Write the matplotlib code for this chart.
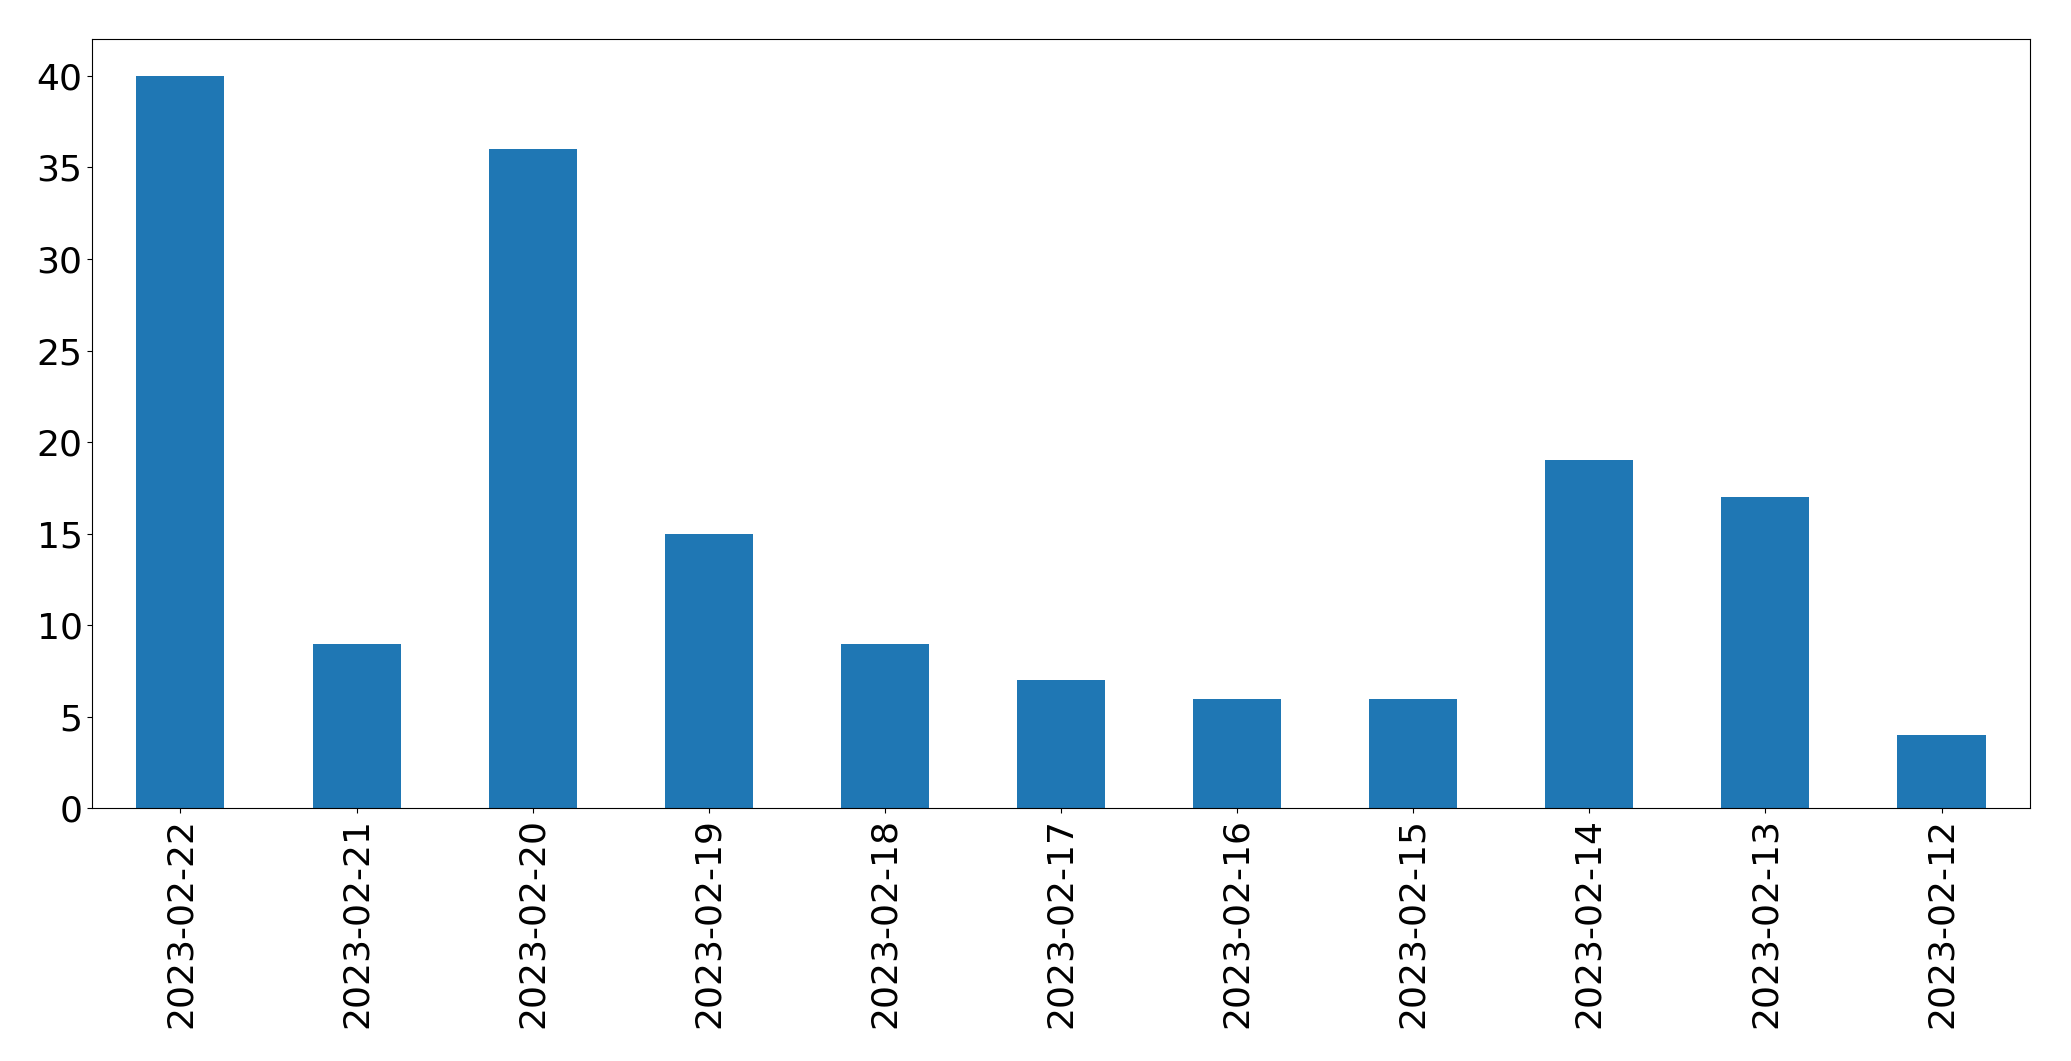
import matplotlib
matplotlib.use("Agg")
import matplotlib.pyplot as plt
import numpy as np

dates = ["2023-02-22", "2023-02-21", "2023-02-20", "2023-02-19", "2023-02-18", "2023-02-17",
         "2023-02-16", "2023-02-15", "2023-02-14", "2023-02-13", "2023-02-12"]
counts = [40, 9, 36, 15, 9, 7, 6, 6, 19, 17, 4]

fig = plt.figure(figsize=(20.71, 10.61), dpi=100)
ax = fig.add_axes([0.0446, 0.238, 0.9354, 0.725])
x = np.arange(len(dates))
ax.bar(x, counts, width=0.5, color="#1f77b4")
ax.set_xlim(-0.5, len(dates) - 0.5)
ax.set_ylim(0, 42)
ax.set_xticks(x)
ax.set_xticklabels(dates, rotation=90)
ax.tick_params(labelsize=26)
fig.savefig("out.png", dpi=100)
